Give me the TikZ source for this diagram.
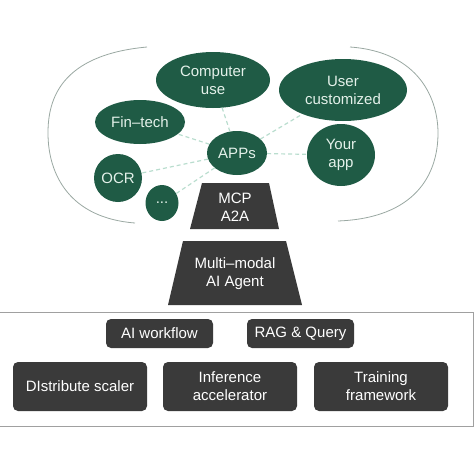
\documentclass[tikz,border=0pt]{standalone}
\usepackage{fontspec}
\setmainfont{Liberation Sans}
\usetikzlibrary{shapes.geometric}
\definecolor{dgreen}{HTML}{1F5B45}
\definecolor{dgray}{HTML}{3A3A3A}
\definecolor{lgreen}{HTML}{B9DDCE}
\definecolor{gtext}{HTML}{E4F1EA}
\definecolor{framegray}{HTML}{A0A0A0}
\definecolor{arcgray}{HTML}{9AA8A2}
\begin{document}
\begin{tikzpicture}[x=1pt,y=-1pt,
  gnode/.style={ellipse,fill=dgreen,inner sep=0pt,text=gtext,align=center,font=\fontsize{15}{18}\selectfont},
  trtext/.style={text=white,align=center,font=\fontsize{15}{18}\selectfont},
  boxnode/.style={fill=dgray,rounded corners=5pt,text=white,align=center,inner sep=0pt,font=\fontsize{15}{18}\selectfont},
  link/.style={draw=lgreen,line width=1.2pt,dash pattern=on 4pt off 3pt},
  bracket/.style={draw=arcgray,line width=0.8pt}]
\useasboundingbox (0,0) rectangle (474,474);
% arcs
\draw[bracket] (147,47) .. controls (60,55) and (48,100) .. (48,133) .. controls (48,175) and (70,218) .. (135,223);
\draw[bracket] (350,47) .. controls (420,52) and (438,100) .. (438,133) .. controls (438,175) and (415,218) .. (338,221);
% nodes
\node[gnode,minimum width=60pt,minimum height=44pt] (apps) at (237,153) {APPs};
\node[gnode,minimum width=114pt,minimum height=56pt] (comp) at (213,80) {Computer\\use};
\node[gnode,minimum width=128pt,minimum height=62pt] (user) at (343,90) {User\\customized};
\node[gnode,minimum width=90pt,minimum height=44pt] (fin) at (140,122) {Fin--tech};
\node[gnode,minimum width=68pt,minimum height=62pt] (your) at (341,155) {Your\\app};
\node[gnode,minimum width=48pt,minimum height=48pt] (ocr) at (118,178) {OCR};
\node[gnode,minimum width=33pt,minimum height=36pt] (dots) at (162,203) {...};
% links
\draw[link] (apps) -- (fin);
\draw[link] (apps) -- (comp);
\draw[link] (apps) -- (user);
\draw[link] (apps) -- (your);
\draw[link] (apps) -- (ocr);
\draw[link] (apps) -- (dots);
% trapezoids
\fill[dgray] (202,183) -- (269,183) -- (279,229) -- (190,229) -- cycle;
\node[trtext] (mcp) at (235,207) {MCP\\A2A};
\fill[dgray] (183,241) -- (286,241) -- (302,305) -- (168,305) -- cycle;
\node[trtext] (agent) at (235,274) {Multi--modal\\AI Agent};
% frame
\draw[framegray,line width=0.8pt] (0,312) -- (473,312) -- (473,426) -- (0,426);
% boxes
\node[boxnode,minimum width=107pt,minimum height=29pt] (wf) at (159.5,333.5) {AI workflow};
\node[boxnode,minimum width=107pt,minimum height=29pt] (rag) at (300.5,333.5) {RAG \& Query};
\node[boxnode,minimum width=134pt,minimum height=49pt] (dist) at (80,386.5) {DIstribute scaler};
\node[boxnode,minimum width=134pt,minimum height=49pt] (inf) at (230,386.5) {Inference\\accelerator};
\node[boxnode,minimum width=134pt,minimum height=49pt] (train) at (381,386.5) {Training\\framework};
\end{tikzpicture}
\end{document}
